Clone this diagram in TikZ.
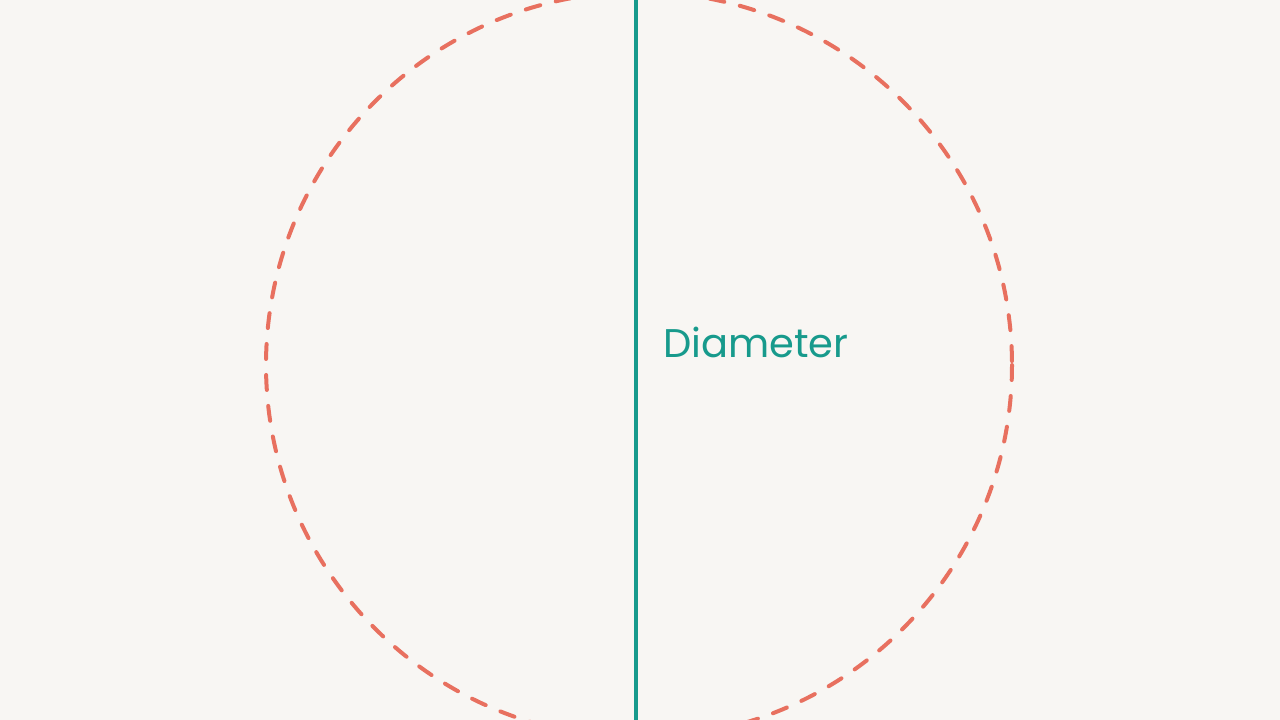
\documentclass[tikz,border=0pt]{standalone}
\usepackage{fontspec}
\setmainfont{Poppins}
\definecolor{bg}{HTML}{F8F6F3}
\definecolor{coral}{HTML}{E8705F}
\definecolor{teal}{HTML}{179A8C}
\begin{document}
\begin{tikzpicture}[x=1pt,y=-1pt,
  circ/.style={draw=coral,line width=4pt,dash pattern=on 15pt off 16pt,line cap=round},
  diam/.style={draw=teal,line width=4pt},
  lbl/.style={text=teal,font=\fontsize{40}{46}\selectfont,anchor=west,inner sep=0pt}]
\fill[bg] (0,0) rectangle (1280,720);
\useasboundingbox (0,0) rectangle (1280,720);
\coordinate (c) at (639,365);
\draw[circ] (c) circle[radius=373];
\coordinate (top) at (636,0);
\coordinate (bot) at (636,720);
\draw[diam] (top) -- (bot);
\node[lbl] (d) at (663,342) {Diameter};
\end{tikzpicture}
\end{document}
